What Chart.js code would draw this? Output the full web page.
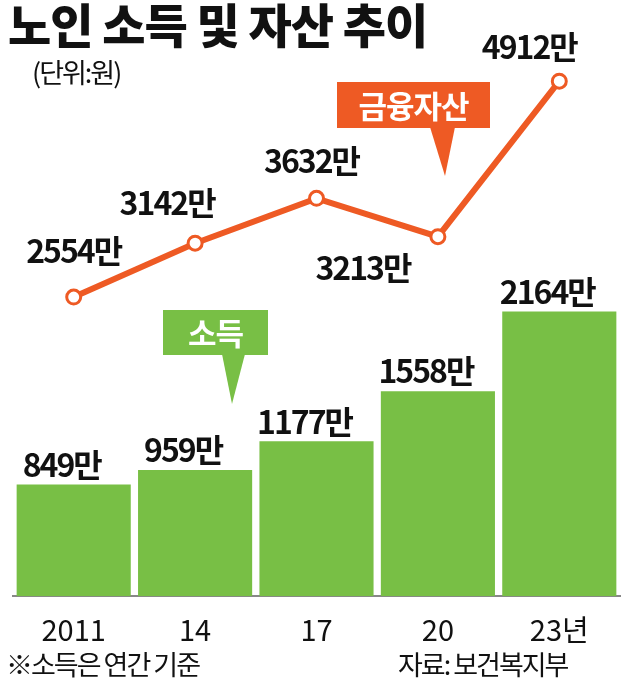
<!DOCTYPE html>
<html>
<head>
<meta charset="utf-8">
<script src="https://cdn.jsdelivr.net/npm/chart.js@4"></script>
<style>
  body { margin: 0; background: #fff; font-family: "Noto Sans CJK KR", sans-serif; }
  #wrap { position: relative; width: 630px; height: 691px; }
  canvas { position: absolute; left: 0; top: 0; }
  .t { position: absolute; white-space: nowrap; color: #111; }
</style>
</head>
<body>
<div id="wrap">
  <canvas id="c" width="630" height="691"></canvas>
  <div class="t" style="left:8px;top:-12px;font-size:47px;font-weight:900;letter-spacing:-1px">노인 소득 및 자산 추이</div>
  <div class="t" style="left:32px;top:52px;font-size:27px;letter-spacing:-2px">(단위:원)</div>
  <div class="t" style="left:6px;top:644px;font-size:27px;letter-spacing:-2px">※소득은 연간 기준</div>
  <div class="t" style="left:398px;top:644px;font-size:27px;letter-spacing:-2px">자료: 보건복지부</div>
</div>
<script>
// values in 만원
const years = ['2011', '14', '17', '20', '23년']
const income = [849, 959, 1177, 1558, 2164]
const assets = [2554, 3142, 3632, 3213, 4912]

const GREEN = '#78bf45'
const ORANGE = '#ee5a24'

// where each asset label sits relative to its point
const assetLabelOffset = [[0, -46], [-28, -40], [-5, -38], [-75, 31], [-30, -34]]

const labelFont = 'bold 32px "Noto Sans CJK KR"'

function callout(ctx, box, tail, color, text) {
    const [x, y, w, h] = box
    ctx.fillStyle = color
    ctx.fillRect(x, y, w, h)
    ctx.beginPath()
    ctx.moveTo(tail[0], y + h - 1)
    ctx.lineTo(tail[1], y + h - 1)
    ctx.lineTo(tail[2], tail[3])
    ctx.closePath()
    ctx.fill()
    ctx.fillStyle = '#fff'
    ctx.font = 'bold 31px "Noto Sans CJK KR"'
    ctx.letterSpacing = '-1px'
    ctx.textAlign = 'center'
    ctx.textBaseline = 'middle'
    ctx.fillText(text, x + w / 2, y + h / 2 + 1)
}

const labels = {
    id: 'labels',
    afterDatasetsDraw(chart) {
        const ctx = chart.ctx
        const x = chart.scales.x
        const yb = chart.scales.yBar
        const yl = chart.scales.yLine
        ctx.save()
        ctx.font = labelFont
        ctx.letterSpacing = '-2px'
        ctx.fillStyle = '#111'
        ctx.textAlign = 'center'
        ctx.textBaseline = 'middle'
        income.forEach((v, i) => {
            ctx.fillText(v + '만', x.getPixelForValue(i) - 12, yb.getPixelForValue(v) - 20)
        })
        assets.forEach((v, i) => {
            const [dx, dy] = assetLabelOffset[i]
            ctx.fillText(v + '만', x.getPixelForValue(i) + dx, yl.getPixelForValue(v) + dy)
        })
        callout(ctx, [337, 82, 153, 46], [430, 455, 445, 176], ORANGE, '금융자산')
        callout(ctx, [163, 310, 105, 45], [222, 245, 232, 404], GREEN, '소득')
        ctx.restore()
    }
}

new Chart(document.getElementById('c'), {
    data: {
        labels: years,
        datasets: [
            {
                type: 'line', data: assets, yAxisID: 'yLine', order: 0,
                borderColor: ORANGE, borderWidth: 6,
                pointRadius: 7, pointBorderWidth: 3,
                pointBackgroundColor: '#fff', pointBorderColor: ORANGE
            },
            {
                type: 'bar', data: income, yAxisID: 'yBar', order: 1,
                backgroundColor: GREEN, barPercentage: 0.94, categoryPercentage: 1
            }
        ]
    },
    options: {
        responsive: false,
        animation: false,
        layout: { padding: { left: 13, right: 0, top: 60, bottom: 36 } },
        plugins: { legend: { display: false }, tooltip: { enabled: false } },
        scales: {
            x: {
                grid: { display: false },
                border: { color: '#888', width: 2 },
                ticks: { color: '#111', font: { family: 'Noto Sans CJK KR', size: 29 }, padding: 8 }
            },
            yBar: { display: false, min: 0, max: 4076 },
            yLine: { display: false, min: -713, max: 5143 }
        }
    },
    plugins: [labels]
})
</script>
</body>
</html>
